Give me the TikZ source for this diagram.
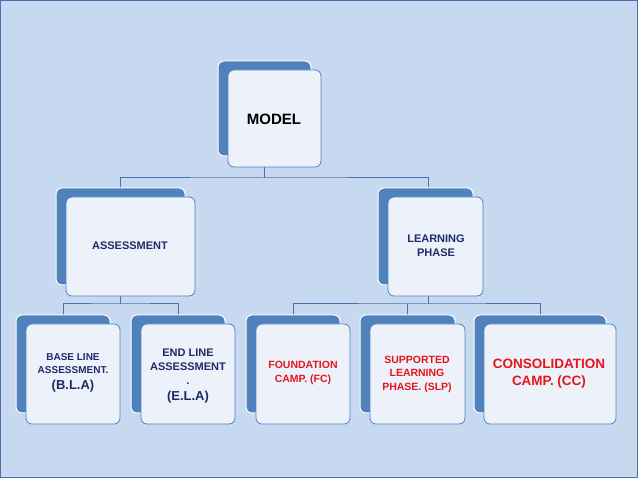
\documentclass[tikz,border=0pt]{standalone}
\usepackage{fontspec}
\setmainfont{Liberation Sans}
\definecolor{bg}{HTML}{C6D9F0}
\definecolor{bk}{HTML}{4F81BD}
\definecolor{fr}{HTML}{EDF2FA}
\definecolor{ln}{HTML}{4A72AC}
\definecolor{nv}{HTML}{1F2B66}
\definecolor{rd}{HTML}{E8141B}
\tikzset{
 backbox/.style={fill=bk,draw=white,line width=1pt,rounded corners=6pt},
 frontbox/.style={fill=fr,draw=bk,line width=0.8pt,rounded corners=6pt},
 lbl/.style={align=center,font=\bfseries\fontsize{11}{14}\selectfont},
 conn/.style={draw=ln,line width=1pt}
}
\newcommand{\mybox}[5]{%
 \draw[backbox] (#2-10,#3-9) rectangle (#4-10,#5-11);
 \draw[frontbox] (#2,#3) rectangle (#4,#5);
 \coordinate (#1) at ({(#2+#4)/2},{(#3+#5)/2});
}
\begin{document}
\begin{tikzpicture}[x=1pt,y=-1pt]
\useasboundingbox (0,0) rectangle (638,478);
\draw[fill=bg,draw=ln,line width=1pt] (0.5,0.5) rectangle (637.5,477.5);
\draw[conn] (264,167) -- (264,178) coordinate (m1);
\draw[conn] (120,188) |- (m1) -| (428,188);
\draw[conn] (120,296) -- (120,304) coordinate (a1);
\draw[conn] (63,315) |- (a1) -| (178,315);
\draw[conn] (428,296) -- (428,304) coordinate (l1);
\draw[conn] (293,315) |- (l1) -| (540,315);
\draw[conn] (407,304) -- (407,315);
\mybox{model}{228}{70}{321}{167}
\mybox{ass}{66}{197}{195}{296}
\mybox{learn}{388}{197}{483}{296}
\mybox{bla}{26}{324}{120}{424}
\mybox{ela}{141}{324}{235}{424}
\mybox{fc}{256}{324}{350}{424}
\mybox{slp}{370}{324}{465}{424}
\mybox{cc}{484}{324}{616}{424}
\node[lbl,font=\bfseries\fontsize{15}{18}\selectfont] (tmodel) at (274,119) {MODEL};
\node[lbl,text=nv] (tass) at (130,246) {ASSESSMENT};
\node[lbl,text=nv] (tlearn) at (436,246) {LEARNING\\PHASE};
\node[lbl,text=nv,font=\bfseries\fontsize{10}{12.5}\selectfont] (tbla) at (73,373) {BASE LINE\\ASSESSMENT.\\[4pt]{\fontsize{13}{15}\selectfont(B.L.A)}};
\node[lbl,text=nv,font=\bfseries\fontsize{11}{14}\selectfont] (tela) at (188,376) {END LINE\\ASSESSMENT\\.\\[2pt]{\fontsize{13}{15}\selectfont(E.L.A)}};
\node[lbl,text=rd,font=\bfseries\fontsize{10.5}{13.5}\selectfont] (tfc) at (303,373) {FOUNDATION\\CAMP. (FC)};
\node[lbl,text=rd,font=\bfseries\fontsize{10.5}{13.5}\selectfont] (tslp) at (417,374) {SUPPORTED\\LEARNING\\PHASE. (SLP)};
\node[lbl,text=rd,font=\bfseries\fontsize{13.5}{17}\selectfont] (tcc) at (549,374) {CONSOLIDATION\\CAMP. (CC)};
\end{tikzpicture}
\end{document}
